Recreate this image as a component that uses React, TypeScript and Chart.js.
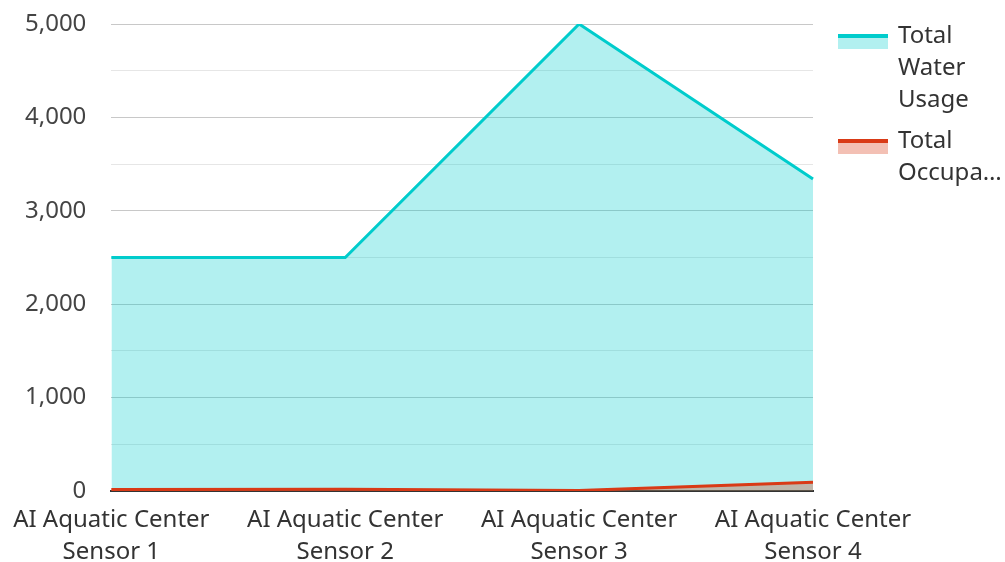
import React, { useEffect, useRef } from "react";
import { Chart, registerables } from "chart.js";

Chart.register(...registerables);

const categories: string[][] = [
  ["AI Aquatic Center", "Sensor 1"],
  ["AI Aquatic Center", "Sensor 2"],
  ["AI Aquatic Center", "Sensor 3"],
  ["AI Aquatic Center", "Sensor 4"],
];
const waterUsage: number[] = [2500, 2500, 5000, 3340];
const occupancy: number[] = [15, 20, 5, 95];
const seriesNames: string[] = ["Total Water Usage", "Total Occupancy"];
const legendLines: string[][] = [["Total", "Water", "Usage"], ["Total", "Occupa…"]];

const FONT = "'Noto Sans', sans-serif";
const CYAN = "#00CCCC";
const CYAN_FILL = "rgba(0, 204, 204, 0.3)";
const RED = "#D93A16";
const RED_FILL = "rgba(217, 58, 22, 0.32)";

const legendPlugin = {
  id: "customLegend",
  afterDraw(chart: any) {
    const ctx = chart.ctx;
    const colors = [
      [CYAN, CYAN_FILL],
      [RED, RED_FILL],
    ];
    let y = 36;
    ctx.save();
    ctx.font = `24px ${FONT}`;
    ctx.textBaseline = "middle";
    legendLines.forEach((lines, i) => {
      const bx = 838;
      ctx.fillStyle = colors[i][1];
      ctx.fillRect(bx, y, 50, 13);
      ctx.fillStyle = colors[i][0];
      ctx.fillRect(bx, y - 2, 50, 4);
      ctx.fillStyle = "#333333";
      lines.forEach((t, j) => {
        ctx.fillText(t, 898, y + j * 32);
      });
      y += lines.length * 32 + 9;
    });
    ctx.restore();
  },
};

export default function App() {
  const ref = useRef<HTMLCanvasElement | null>(null);
  useEffect(() => {
    document.body.style.margin = "0";
    const chart = new Chart(ref.current as HTMLCanvasElement, {
      type: "line",
      data: {
        labels: categories,
        datasets: [
          {
            label: seriesNames[0],
            data: waterUsage,
            borderColor: CYAN,
            backgroundColor: CYAN_FILL,
            borderWidth: 3,
            fill: "origin",
            pointRadius: 0,
            tension: 0,
            order: 2,
          },
          {
            label: seriesNames[1],
            data: occupancy,
            borderColor: RED,
            backgroundColor: RED_FILL,
            borderWidth: 3,
            fill: "origin",
            pointRadius: 0,
            tension: 0,
            order: 1,
          },
        ],
      },
      options: {
        animation: false,
        responsive: false,
        maintainAspectRatio: false,
        layout: { padding: { top: 24, right: 192, left: 0, bottom: -19 } },
        plugins: {
          legend: { display: false },
          tooltip: { enabled: false },
        },
        scales: {
          x: {
            offset: false,
            grid: { display: false, drawTicks: false },
            border: { display: true, color: "#333333", width: 2 },
            ticks: {
              color: "#333333",
              font: { family: FONT, size: 24, lineHeight: 32 / 24 },
              padding: 13,
              maxRotation: 0,
              autoSkip: false,
            },
          },
          y: {
            min: 0,
            max: 5000,
            afterFit: (s: any) => {
              s.paddingTop = 0;
              s.paddingBottom = 0;
            },
            grid: {
              drawTicks: false,
              color: (c: any) => (c.tick && c.tick.value % 1000 === 0 ? "#C8C8C8" : "#E6E6E6"),
              lineWidth: 1,
            },
            border: { display: false },
            ticks: {
              stepSize: 500,
              padding: 25,
              color: "#444444",
              font: { family: FONT, size: 24 },
              callback: (v: any) => (Number(v) % 1000 === 0 ? Number(v).toLocaleString("en-US") : ""),
            },
          },
        },
      },
      plugins: [legendPlugin],
    });
    return () => chart.destroy();
  }, []);
  return <canvas ref={ref} width={1005} height={562} style={{ display: "block" }} />;
}
